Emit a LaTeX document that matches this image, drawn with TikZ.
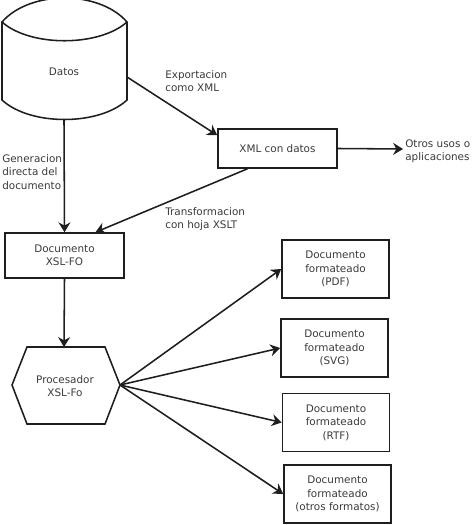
\documentclass[tikz,border=0pt]{standalone}
\usepackage{fontspec}
\setmainfont{DejaVu Sans}
\usepackage{xcolor}
\usetikzlibrary{arrows.meta,positioning,calc}
\definecolor{ink}{HTML}{1E1E1E}
\definecolor{txt}{HTML}{3A3A3A}
\newcommand{\flowfont}{\fontsize{7.4}{9.6}\selectfont}
\tikzset{
  lbl/.style={align=left, text=txt, font=\flowfont, inner sep=0pt},
  box/.style={draw=ink, line width=1.1pt, align=center, text=txt, font=\flowfont, inner sep=0pt},
  outbox/.style={box, minimum width=2.675cm, minimum height=1.45cm},
  flow/.style={draw=ink, line width=1.1pt, -{Stealth[length=7pt,width=8.5pt]}},
}

\begin{document}
\begin{tikzpicture}[x=0.025cm,y=-0.025cm]
  \useasboundingbox (0,0) rectangle (474,525);
  % store of data
  \draw[ink, line width=1.1pt] (2,22) .. controls (30,-10) and (99,-10) .. (127,22) -- (127,100)
    .. controls (99,126) and (30,126) .. (2,100) -- cycle;
  \draw[ink, line width=1.1pt] (2,22) .. controls (30,47) and (99,47) .. (127,22);
  \node[lbl] (datos) at (64,72) {Datos};
  \coordinate (datos-e) at (127,77);
  \coordinate (datos-s) at (64,120);

  \node[box, minimum width=2.975cm, minimum height=0.975cm] (xml) at (277.5,148.5) {XML con datos};
  \node[box, minimum width=2.975cm, minimum height=1.125cm] (docfo) at (64.5,255.5) {Documento\\XSL-FO};
  \coordinate (otros-w) at (403,149);

  % processor
  \draw[ink, line width=1.1pt] (12,385) -- (27,347) -- (105,347) -- (120,385)
    -- (105,424) -- (27,424) -- cycle;
  \node[lbl, align=center] (proc) at (65,386) {Procesador\\XSL-Fo};
  \coordinate (proc-n) at (64,347);
  \coordinate (proc-e) at (120,385);

  \draw[flow] (datos-e) -- ($(xml.north west)+(0,7)$);
  \draw[flow] (xml.east) -- (otros-w);
  \draw[flow] (datos-s) -- (docfo.north);
  \draw[flow] ($(xml.south)+(-30,0)$) -- ($(docfo.north)+(31,0)$);
  \draw[flow] (docfo.south) -- (proc-n);

  \node[lbl, anchor=west] (exp) at (165,81) {Exportacion\\como XML};
  \node[lbl, anchor=west] (usos) at (405,151) {Otros usos o\\aplicaciones};
  \node[lbl, anchor=west] (gen) at (2,172) {Generacion\\directa del\\documento};
  \node[lbl, anchor=west] (xslt) at (165,219) {Transformacion\\con hoja XSLT};

  \foreach \nm/\x/\y/\fmt in {pdf/335.5/269/{(PDF)}, svg/334.5/348/{(SVG)},
                              rtf/336/422.5/{(RTF)}, otras/337.5/494/{(otros formatos)}}{
    \node[outbox] (\nm) at (\x,\y) {Documento\\formateado\\\fmt};
    \draw[flow] (proc-e) -- (\nm.west);
  }
\end{tikzpicture}
\end{document}
